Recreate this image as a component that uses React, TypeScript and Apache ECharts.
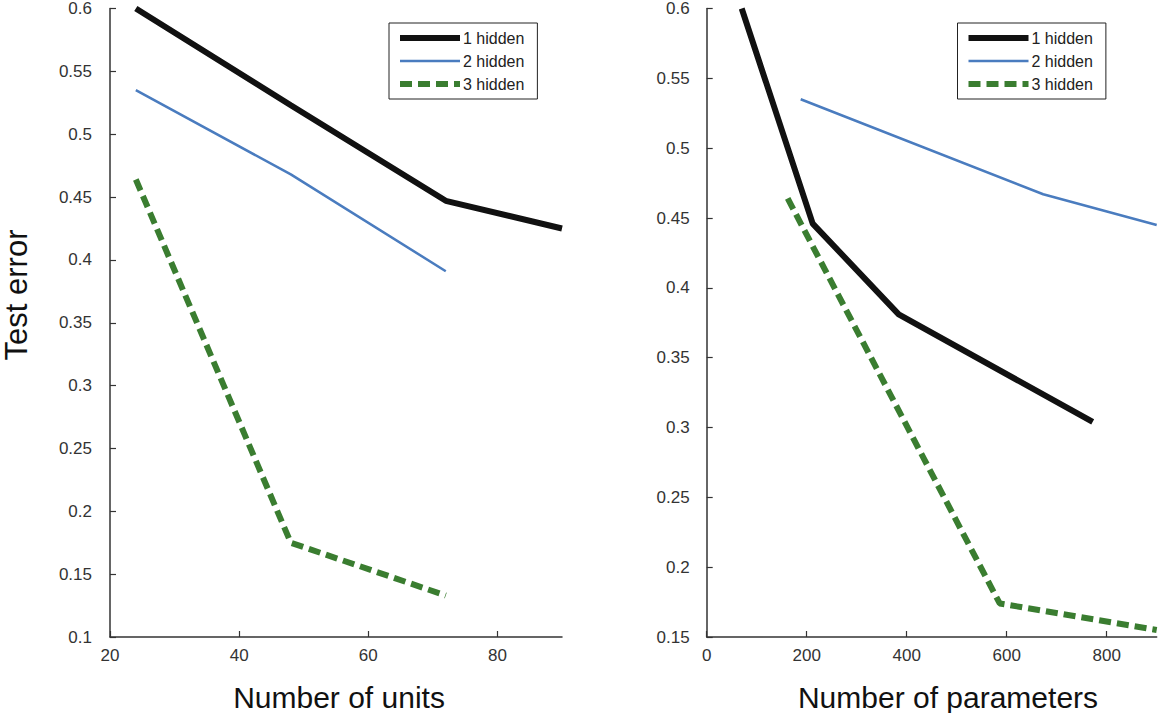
import React, { useEffect, useRef } from 'react';
import * as echarts from 'echarts';

// left panel: test error vs number of units
const unitsTicks = [20, 40, 60, 80];
const unitsOneX = [24, 48, 72, 90];
const unitsOneY = [0.6, 0.523, 0.447, 0.425];
const unitsTwoX = [24, 48, 72];
const unitsTwoY = [0.535, 0.468, 0.391];
const unitsThreeX = [24, 48, 72];
const unitsThreeY = [0.464, 0.175, 0.133];
const unitsErrTicks = [0.1, 0.15, 0.2, 0.25, 0.3, 0.35, 0.4, 0.45, 0.5, 0.55, 0.6];

// right panel: test error vs number of parameters
const paramTicks = [0, 200, 400, 600, 800];
const paramOneX = [70, 212, 384, 772];
const paramOneY = [0.6, 0.446, 0.381, 0.304];
const paramTwoX = [188, 673, 900];
const paramTwoY = [0.535, 0.467, 0.445];
const paramThreeX = [162, 586, 900];
const paramThreeY = [0.464, 0.174, 0.155];
const paramErrTicks = [0.15, 0.2, 0.25, 0.3, 0.35, 0.4, 0.45, 0.5, 0.55, 0.6];

const seriesNames = ['1 hidden', '2 hidden', '3 hidden'];

const FONT = "'Liberation Sans', Arial, Helvetica, sans-serif";
const AXIS = '#333';
const COLORS = ['#111111', '#4a7cbf', '#3a7d30'];

const zip = (xs: number[], ys: number[]) => xs.map((x, i) => [x, ys[i]]);

const lineStyles = [
  { width: 6, color: COLORS[0], type: 'solid' as const },
  { width: 2.5, color: COLORS[1], type: 'solid' as const },
  { width: 6, color: COLORS[2], type: [12, 6], cap: 'butt' as const },
];

const makeLegend = (left: number) => ({
  left,
  top: 23,
  orient: 'vertical' as const,
  data: seriesNames.map((name, i) => ({
    name,
    itemStyle: { opacity: 0 },
    lineStyle: { ...lineStyles[i] },
  })),
  itemWidth: 60,
  itemHeight: 14,
  itemGap: 7,
  padding: [7, 13, 7, 8],
  borderColor: '#222',
  borderWidth: 1,
  selectedMode: false,
  textStyle: { fontFamily: FONT, fontSize: 16, color: '#222', padding: [0, 0, 0, -2] },
});

const makeX = (gridIndex: number, min: number, max: number, ticks: number[]) => ({
  type: 'value' as const,
  gridIndex,
  min,
  max,
  axisLine: { show: true, onZero: false, lineStyle: { color: AXIS, width: 1.5 } },
  axisTick: { show: true, inside: true, length: 6, customValues: ticks, lineStyle: { color: AXIS, width: 1.2 } },
  axisLabel: { customValues: ticks, margin: 10, fontFamily: FONT, fontSize: 17, color: '#333' },
  splitLine: { show: false },
});

const makeY = (gridIndex: number, min: number, max: number, ticks: number[], margin: number) => ({
  type: 'value' as const,
  gridIndex,
  min,
  max,
  axisLine: { show: true, onZero: false, lineStyle: { color: AXIS, width: 1.5 } },
  axisTick: { show: true, inside: true, length: 6, customValues: ticks, lineStyle: { color: AXIS, width: 1.2 } },
  axisLabel: { customValues: ticks, margin, fontFamily: FONT, fontSize: 17, color: '#333' },
  splitLine: { show: false },
});

const makeSeries = (idx: number, data: number[][], axisIndex: number) => ({
  name: seriesNames[idx],
  type: 'line' as const,
  xAxisIndex: axisIndex,
  yAxisIndex: axisIndex,
  data,
  symbol: 'none',
  color: COLORS[idx],
  lineStyle: lineStyles[idx],
  z: 3 - idx,
});

const App: React.FC = () => {
  const chartRef = useRef<HTMLDivElement>(null);

  useEffect(() => {
    if (!chartRef.current) return;
    const chart = echarts.init(chartRef.current, undefined, { renderer: 'svg' });

    const option: echarts.EChartsOption = {
      animation: false,
      backgroundColor: '#fff',
      grid: [
        { left: 110, top: 7, width: 452, height: 630 },
        { left: 706.7, top: 7, width: 450, height: 630 },
      ],
      legend: [makeLegend(389), makeLegend(957.5)],
      xAxis: [makeX(0, 20, 90, unitsTicks), makeX(1, 0, 900, paramTicks)],
      yAxis: [makeY(0, 0.1, 0.6, unitsErrTicks, 18), makeY(1, 0.15, 0.6, paramErrTicks, 17)],
      series: [
        makeSeries(0, zip(unitsOneX, unitsOneY), 0),
        makeSeries(1, zip(unitsTwoX, unitsTwoY), 0),
        makeSeries(2, zip(unitsThreeX, unitsThreeY), 0),
        makeSeries(0, zip(paramOneX, paramOneY), 1),
        makeSeries(1, zip(paramTwoX, paramTwoY), 1),
        makeSeries(2, zip(paramThreeX, paramThreeY), 1),
      ],
      graphic: [
        {
          type: 'text',
          x: 16,
          y: 295,
          rotation: Math.PI / 2,
          style: { text: 'Test error', font: `31px ${FONT}`, fill: '#111', align: 'center', verticalAlign: 'middle' },
        },
        {
          type: 'text',
          x: 339,
          y: 697,
          style: { text: 'Number of units', font: `30px ${FONT}`, fill: '#111', align: 'center', verticalAlign: 'middle' },
        },
        {
          type: 'text',
          x: 948,
          y: 697,
          style: { text: 'Number of parameters', font: `30px ${FONT}`, fill: '#111', align: 'center', verticalAlign: 'middle' },
        },
      ],
    };

    chart.setOption(option);

    return () => {
      chart.dispose();
    };
  }, []);

  return (
    <div
      ref={chartRef}
      style={{ position: 'absolute', left: 0, top: 0, width: '1161px', height: '713px' }}
    />
  );
};

export default App;
